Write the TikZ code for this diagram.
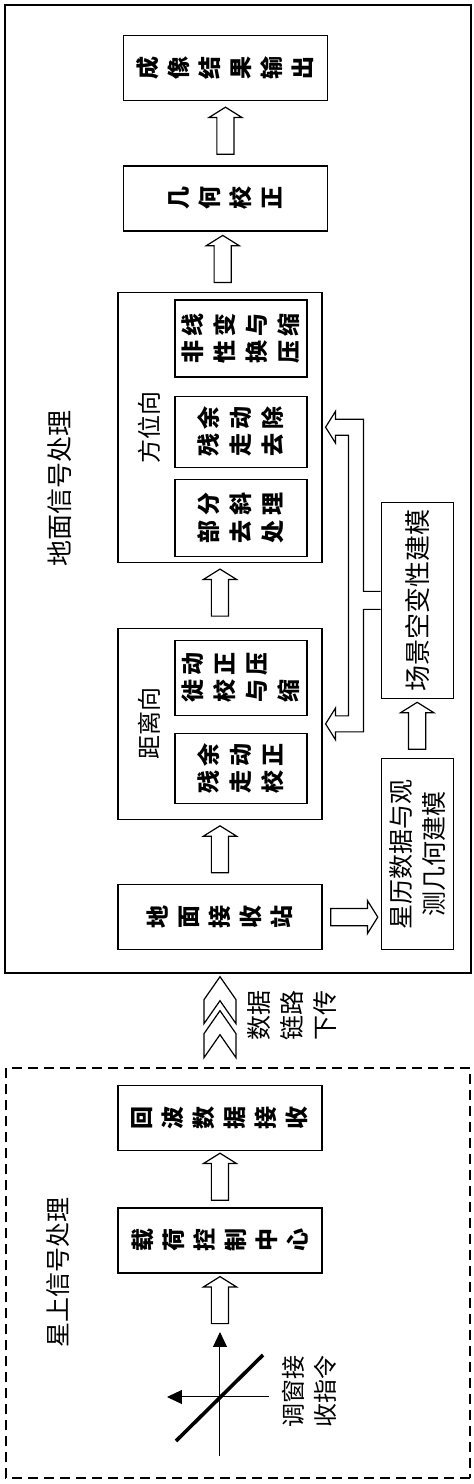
\documentclass[tikz,border=0pt]{standalone}
\usepackage{fontspec}
\setmainfont{Noto Sans CJK SC}
\newfontfamily\spacedfont[LetterSpace=20]{Noto Sans CJK SC}
\usetikzlibrary{shapes.arrows, arrows.meta, positioning, calc}
\tikzset{
    box/.style={
        draw, rectangle, line width=0.6pt, minimum width=32.5pt, minimum height=102pt, inner sep=0pt, align=center, font=\fontsize{11.5}{15.5}\selectfont\bfseries
    },
    inbox/.style={
        draw, rectangle, line width=0.6pt, minimum width=37pt, minimum height=66pt, inner sep=0pt, align=left, font=\fontsize{11.5}{16}\spacedfont\bfseries
    },
    group/.style={
        draw, rectangle, line width=0.6pt, minimum width=95.5pt, minimum height=102pt, inner sep=0pt
    },
    model/.style={
        draw, rectangle, line width=0.6pt, minimum height=36pt, inner sep=0pt, align=center, font=\fontsize{12.5}{16.5}\selectfont
    },
    tag/.style={
        align=center, inner sep=0pt, font=\fontsize{12.5}{16.5}\selectfont
    },
    fatarrow/.style={
        draw, single arrow, line width=0.6pt, minimum height=23.5pt, text width=0pt, text height=4pt, text depth=4pt, single arrow head extend=4pt, single arrow tip angle=116, inner sep=0pt
    },
    axis/.style={
        line width=0.5pt, -{Triangle[length=7.5pt,width=7pt]}
    }
}
\begin{document}
\begin{tikzpicture}[x=1pt, y=1pt, rotate=90, transform shape]  % drawn lying, then turned upright
    \useasboundingbox (0,0) rectangle (742,237);

    % 星上信号处理
    \draw[line width=1pt, dash pattern=on 5pt off 3pt] (3,2) rectangle (208,234);
    \node[tag] (onboard) at (105.75,208) {星上信号处理};

    \coordinate (origin) at (43.5,127);
    \draw[axis] ($(origin)+(-29.5,0)$) -- ($(origin)+(32.5,0)$) coordinate (axtip);
    \draw[axis] ($(origin)+(0,-24.5)$) -- ($(origin)+(0,26.5)$);
    \draw[line width=1.8pt] ($(origin)+(-22,22)$) -- ($(origin)+(21,-21.5)$);
    \node[tag, font=\fontsize{12}{16}\selectfont] (cmd) at (46.25,82.5) {调窗接\\收指令};

    \node[box] (payload) at (121.75,127) {载\\荷\\控\\制\\中\\心};
    \node[box, right=28pt of payload] (echo) {回\\波\\数\\据\\接\\收};

    % 地面信号处理
    \draw[line width=1.2pt] (255.5,1.5) rectangle (739.5,234.5);
    \node[tag, font=\fontsize{13}{15}\selectfont] (ground) at (497.5,207) {地面信号处理};

    \node[box, right=67.5pt of echo] (gs) {地\\面\\接\\收\\站};
    \node[group, right=32pt of gs] (rng) {};
    \node[group, minimum width=135pt, right=32.5pt of rng] (azi) {};
    \node[box, right=30pt of azi, yshift=-2.75pt] (geo) {几\\何\\校\\正};
    \node[box, right=32pt of geo] (out) {成\\像\\结\\果\\输\\出};

    % 距离向
    \node[tag, font=\fontsize{12}{14}\selectfont] (rngtag) at ($(rng.north)+(0,-16)$) {距离向};
    \node[inbox, minimum width=35pt] (rngres) at ($(rng.center)+(-22.25,-10.5)$) {残余\\走动\\校正};
    \node[inbox, minimum width=37.5pt, right=8.5pt of rngres] (rcmc) {徙动\\校正\\与压\\缩};

    % 方位向
    \node[tag, font=\fontsize{12}{14}\selectfont] (azitag) at ($(azi.north)+(0,-16)$) {方位向};
    \node[inbox, minimum width=35.5pt] (azres) at ($(azi.center)+(-2.25,-10.5)$) {残余\\走动\\去除};
    \node[inbox, minimum width=38.5pt, left=5.5pt of azres] (deramp) {部分\\去斜\\处理};
    \node[inbox, minimum width=38.5pt, right=9pt of azres] (nonlin) {非线\\性变\\换与\\压缩};

    \node[model, minimum width=95.5pt, below=29pt of gs.south west, anchor=north west] (eph) {星历数据与观\\测几何建模};
    \node[model, minimum width=98pt, right=29.5pt of eph, font=\fontsize{13}{16}\selectfont] (scene) {场景空变性建模};

    % 数据链路下传
    \coordinate (link) at ($(echo.east)!.5!(gs.west)$);
    \foreach \dx in {0,17}
        \draw[line width=0.6pt] ($(link)+(20.5-\dx,0)$) -- ++(-11.5,8) -- ++(-12,0) -- ++(11.5,-8) -- ++(-11.5,-8) -- ++(12,0) -- cycle;
    \node[tag] (linktag) at ($(link)+(1.25,-36)$) {数据\\链路\\下传};

    % 箭头
    \node[fatarrow] (arr1) at ($(axtip)!.5!(payload.west)$) {};
    \node[fatarrow] (arr2) at ($(payload.east)!.5!(echo.west)$) {};
    \node[fatarrow] (arr3) at ($(gs.east)!.5!(rng.west)$) {};
    \node[fatarrow] (arr4) at ($(rng.east)!.5!(azi.west)$) {};
    \node[fatarrow] (arr5) at ($(azi.east)!.5!(geo.west)$) {};
    \node[fatarrow] (arr6) at ($(geo.east)!.5!(out.west)$) {};
    \node[fatarrow, rotate=-90] (arr7) at ($(gs.south)+(0,-14.5)$) {};
    \node[fatarrow] (arr8) at ($(eph.east)!.5!(scene.west)$) {};

    \draw[line width=0.6pt] ($(scene.north)+(-4.5,0)$) -- ++(0,8.5) -- ($(rng.south)+(-4,-20.5)$) -- ++(0,14) -- ++(-4,0)
        -- ($(rng.south)+(0,-1.5)$) -- ++(8,-5) -- ++(-4,0) -- ++(0,-6.5) -- ($(azi.south)+(-4,-13)$) -- ++(0,6.5) -- ++(-4,0)
        -- ($(azi.south)+(0,-1.5)$) -- ++(8,-5) -- ++(-4,0) -- ++(0,-14) -- ($(scene.north)+(4.5,8.5)$) -- ++(0,-8.5);

\end{tikzpicture}
\end{document}
